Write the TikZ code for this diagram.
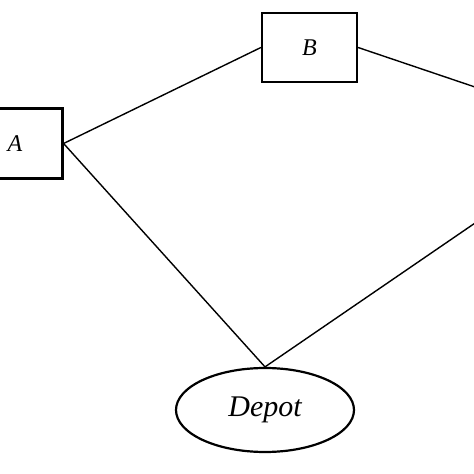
\documentclass[tikz,border=0pt]{standalone}
\usepackage{fontspec}
\setmainfont{Liberation Serif}
\newfontfamily\labfont[Scale=2.4]{Liberation Serif}
\newfontfamily\depfont[Scale=3.0]{Liberation Serif}
\usetikzlibrary{shapes.geometric}
\begin{document}
\begin{tikzpicture}[x=1pt,y=1pt,
  custbox/.style={draw, line width=2.2pt, minimum width=95pt, minimum height=70pt, inner sep=0pt, font=\labfont\itshape},
  depotnode/.style={draw, ellipse, line width=2.2pt, minimum width=178pt, minimum height=84pt, inner sep=0pt, font=\depfont\itshape},
  edge/.style={line width=1.4pt}]
\clip (0,0) rectangle (474,474);
\fill[white] (0,0) rectangle (474,474);
\node[depotnode] (D) at (265,64) {Depot};
\node[custbox] (A) at (15,330.5) {A};
\node[custbox, minimum height=69pt] (B) at (309.5,426.5) {B};
\coordinate (C) at (608,342);
\draw[edge] (A.east) -- (B.west);
\draw[edge] (A.east) -- (D.north);
\draw[edge] (B.east) -- (C);
\draw[edge] (D.north) -- (C);
\end{tikzpicture}
\end{document}
